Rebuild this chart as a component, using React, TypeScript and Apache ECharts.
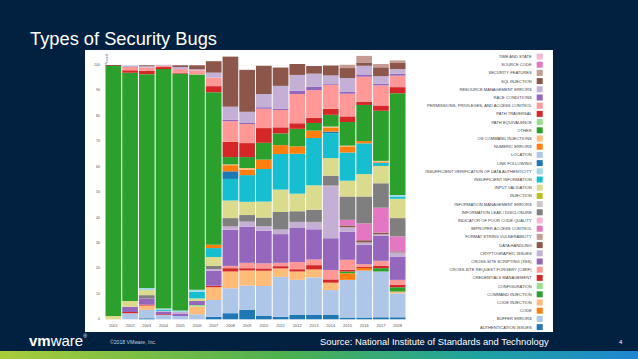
import React, { useEffect, useRef } from 'react';
import * as echarts from 'echarts';

const years = ['2001', '2002', '2003', '2004', '2005', '2006', '2007', '2008', '2009', '2010', '2011', '2012', '2013', '2014', '2015', '2016', '2017', '2018'];

const yTicks = [0, 10, 20, 30, 40, 50, 60, 70, 80, 90, 100];

// stack order: bottom -> top
const authenticationIssues = [0, 0, 0.4, 0, 0, 0, 1.0, 2.4, 3.7, 1.3, 1.0, 1.7, 1.7, 1.7, 0.7, 0.7, 0.8, 0.8];
const bufferErrors = [0, 2.4, 3.3, 1.7, 1.3, 2.0, 6.6, 9.8, 9.6, 11.8, 15.7, 13.8, 14.8, 9.8, 14.8, 18.5, 18.0, 9.4];
const code = [0, 0, 0, 0, 0, 0, 0, 0, 0, 0, 0, 0, 0, 0, 2.6, 1.0, 0, 0];
const codeInjection = [0, 0, 1.7, 0, 0, 3.0, 5.0, 6.6, 5.9, 6.0, 3.3, 3.3, 3.1, 2.9, 0, 0, 0, 0.7];
const commandInjection = [0, 0, 0, 0, 0, 0, 0, 0, 0, 0, 0, 0, 0, 0, 0.7, 0, 1.3, 1.7];
const configuration = [0, 0, 0, 0, 0, 0.6, 0, 0, 0, 0, 0, 0, 0, 0, 0, 0, 0, 0];
const credentialsManagement = [0, 0.5, 0.4, 0.3, 0, 0, 0.6, 1.3, 0.9, 0.9, 0.9, 0.9, 1.7, 1.3, 0.7, 0.5, 0.9, 0.9];
const csrf = [0, 0, 0, 0, 0, 0, 0, 0.9, 2.1, 2.0, 1.3, 2.8, 2.2, 3.7, 3.9, 1.0, 2.0, 2.0];
const xss = [0, 2.0, 2.4, 1.0, 1.0, 1.6, 5.9, 14.2, 14.2, 12.8, 11.3, 13.4, 11.9, 12.5, 11.1, 7.5, 9.8, 9.2];
const cryptographicIssues = [0, 0, 0, 0.3, 0.6, 0, 0.6, 1.3, 2.0, 1.8, 1.8, 2.4, 2.9, 20.4, 1.7, 1.0, 0.6, 1.6];
const dataHandling = [0, 0, 0, 0, 0, 0, 0, 0, 0, 0, 0, 0, 0, 0, 0.7, 0.9, 0.7, 0.4];
const formatString = [0, 0, 0, 0, 0, 0, 0, 0, 0, 0, 0, 0, 0, 0.3, 0, 0, 0, 0];
const improperAccessControl = [0, 0, 0, 0, 0, 0, 0, 0, 0, 0, 0, 0, 0, 0, 2.2, 6.6, 9.8, 5.9];
const poorCodeQuality = [0, 0, 0, 0, 0, 0, 0, 0, 0, 0, 0, 0, 0, 0, 0, 0, 0, 0];
const informationLeak = [0, 0, 1.3, 0, 0, 0, 1.3, 3.3, 2.6, 3.4, 6.9, 4.2, 4.8, 3.9, 9.2, 10.6, 9.6, 7.2];
const informationManagement = [0, 0, 0, 0, 0, 0, 0, 0, 0, 0, 0, 0, 0, 0, 0, 0, 0, 0];
const injection = [0, 0, 0, 0, 0, 0, 0, 0, 0, 0, 0, 0, 0, 0, 0, 0, 0, 0];
const inputValidation = [1.3, 2.3, 2.0, 0, 0, 1.0, 3.5, 6.9, 5.2, 6.3, 8.8, 6.9, 9.6, 6.9, 6.2, 8.8, 6.8, 7.6];
const insufficientInformation = [0, 0, 0, 0.5, 0, 2.6, 3.5, 8.5, 10.5, 12.8, 14.0, 15.7, 18.6, 9.8, 11.1, 12.1, 1.3, 0.9];
const insufficientVerification = [0, 0, 0.8, 0.4, 0.6, 0.8, 0, 0, 0, 0, 0, 0, 0, 0, 0, 0, 0, 0.6];
const linkFollowing = [0, 0, 0, 0, 0, 0, 0, 3.0, 0, 0, 0, 0, 0, 0.6, 0, 0, 0, 0];
const location = [0, 0, 0, 0, 0, 0, 0, 0, 0, 0, 0, 0, 0, 0, 0, 0, 0, 0];
const numericErrors = [0, 0, 0, 0, 0, 0, 1.3, 2.4, 2.2, 3.7, 3.5, 2.9, 2.9, 1.6, 2.4, 0.9, 0.3, 0];
const osCommandInjections = [0, 0, 0, 0, 0, 0, 0, 0.3, 0.6, 0, 0, 0, 0, 0.4, 0.3, 0, 0.4, 0];
const other = [98.3, 89.8, 84.1, 94.2, 93.1, 84.7, 60.0, 2.9, 4.3, 6.6, 4.6, 6.9, 3.0, 4.6, 9.3, 14.2, 19.7, 40.0];
const pathEquivalence = [0, 0, 0, 0, 0, 0, 0, 0, 0, 0, 0, 0, 0, 0, 0, 0, 0, 0];
const pathTraversal = [0, 0.9, 1.3, 0.8, 0.3, 0, 2.4, 6.0, 5.5, 5.8, 2.4, 2.2, 2.0, 2.4, 2.2, 1.3, 2.1, 2.4];
const permissions = [0, 1.3, 1.3, 0.6, 1.5, 1.6, 3.3, 8.1, 7.5, 7.6, 6.8, 11.5, 10.9, 9.4, 8.9, 9.8, 7.9, 4.5];
const raceConditions = [0, 0, 0, 0, 0, 0, 0, 0.5, 0.6, 0.6, 0.6, 1.3, 1.3, 0.3, 0.7, 0.9, 0.7, 0.8];
const resourceManagement = [0, 0.6, 0.5, 0.3, 0.8, 0.4, 2.0, 5.2, 4.2, 5.2, 8.9, 6.2, 5.2, 3.4, 5.5, 3.4, 2.9, 1.8];
const sqlInjection = [0.4, 0, 0.4, 0, 0.7, 1.6, 4.5, 19.7, 16.5, 11.1, 7.2, 4.3, 3.0, 3.9, 3.9, 1.3, 3.5, 2.4];
const securityFeatures = [0, 0, 0, 0, 0, 0, 0, 0, 0, 0, 0, 0, 0, 0, 1.3, 2.6, 1.3, 1.0];
const sourceCode = [0, 0, 0, 0, 0, 0, 0, 0, 0, 0, 0, 0, 0, 0, 0, 0, 0, 0];
const timeAndState = [0, 0, 0, 0, 0, 0, 0, 0, 0, 0, 0, 0, 0, 0, 0, 0, 0, 0];

const categories: [string, number[]][] = [
  ['AUTHENTICATION ISSUES', authenticationIssues],
  ['BUFFER ERRORS', bufferErrors],
  ['CODE', code],
  ['CODE INJECTION', codeInjection],
  ['COMMAND INJECTION', commandInjection],
  ['CONFIGURATION', configuration],
  ['CREDENTIALS MANAGEMENT', credentialsManagement],
  ['CROSS-SITE REQUEST FORGERY (CSRF)', csrf],
  ['CROSS-SITE SCRIPTING (XSS)', xss],
  ['CRYPTOGRAPHIC ISSUES', cryptographicIssues],
  ['DATA HANDLING', dataHandling],
  ['FORMAT STRING VULNERABILITY', formatString],
  ['IMPROPER ACCESS CONTROL', improperAccessControl],
  ['INDICATOR OF POOR CODE QUALITY', poorCodeQuality],
  ['INFORMATION LEAK / DISCLOSURE', informationLeak],
  ['INFORMATION MANAGEMENT ERRORS', informationManagement],
  ['INJECTION', injection],
  ['INPUT VALIDATION', inputValidation],
  ['INSUFFICIENT INFORMATION', insufficientInformation],
  ['INSUFFICIENT VERIFICATION OF DATA AUTHENTICITY', insufficientVerification],
  ['LINK FOLLOWING', linkFollowing],
  ['LOCATION', location],
  ['NUMERIC ERRORS', numericErrors],
  ['OS COMMAND INJECTIONS', osCommandInjections],
  ['OTHER', other],
  ['PATH EQUIVALENCE', pathEquivalence],
  ['PATH TRAVERSAL', pathTraversal],
  ['PERMISSIONS, PRIVILEGES, AND ACCESS CONTROL', permissions],
  ['RACE CONDITIONS', raceConditions],
  ['RESOURCE MANAGEMENT ERRORS', resourceManagement],
  ['SQL INJECTION', sqlInjection],
  ['SECURITY FEATURES', securityFeatures],
  ['SOURCE CODE', sourceCode],
  ['TIME AND STATE', timeAndState],
];

const palette = [
  '#1f77b4', '#aec7e8', '#ff7f0e', '#ffbb78', '#2ca02c', '#98df8a', '#d62728', '#ff9896',
  '#9467bd', '#c5b0d5', '#8c564b', '#c49c94', '#e377c2', '#f7b6d2', '#7f7f7f', '#c7c7c7',
  '#bcbd22', '#dbdb8d', '#17becf', '#9edae5',
];

const FONT = 'Liberation Sans, Arial, Helvetica, sans-serif';

export default function App() {
  const ref = useRef<HTMLDivElement>(null);
  useEffect(() => {
    const chart = echarts.init(ref.current!, undefined, { renderer: 'svg', width: 638, height: 359 });
    chart.setOption({
      animation: false,
      backgroundColor: '#02203f',
      textStyle: { fontFamily: FONT },
      graphic: [
        { type: 'rect', z: -10, shape: { x: 85, y: 50, width: 468, height: 282 }, style: { fill: '#ffffff' } },
        {
          type: 'text', x: 30, y: 38,
          style: { text: 'Types of Security Bugs', fill: '#ffffff', fontSize: 18.3, fontFamily: FONT, verticalAlign: 'middle' },
        },
        {
          type: 'text', x: 106.8, y: 65.5, rotation: Math.PI / 2,
          style: { text: 'Percent', fill: '#555555', fontSize: 3.5, fontFamily: FONT, verticalAlign: 'middle', align: 'left' },
        },
        {
          type: 'text', x: 29, y: 340.5,
          style: {
            text: '{vm|vm}{ware|ware}{r|®}',
            fill: '#ffffff', verticalAlign: 'middle', fontFamily: FONT,
            rich: {
              vm: { fontSize: 15, fontWeight: 'bold', fill: '#ffffff', fontFamily: FONT },
              ware: { fontSize: 15, fill: '#ffffff', fontFamily: FONT },
              r: { fontSize: 5, fill: '#ffffff', fontFamily: FONT, verticalAlign: 'top' },
            },
          },
        },
        {
          type: 'text', x: 110, y: 342,
          style: { text: '©2018 VMware, Inc.', fill: '#c9d1db', fontSize: 5.1, fontFamily: FONT, verticalAlign: 'middle' },
        },
        {
          type: 'text', x: 320, y: 341.5,
          style: { text: 'Source: National Institute of Standards and Technology', fill: '#ffffff', fontSize: 9.4, fontFamily: FONT, verticalAlign: 'middle' },
        },
        {
          type: 'text', x: 619, y: 342,
          style: { text: '4', fill: '#ffffff', fontSize: 6, fontFamily: FONT, verticalAlign: 'middle' },
        },
        {
          type: 'rect', shape: { x: 0, y: 351, width: 638, height: 8 },
          style: {
            fill: new echarts.graphic.LinearGradient(0, 0, 1, 0, [
              { offset: 0, color: '#a9cc3a' },
              { offset: 0.45, color: '#4cb050' },
              { offset: 0.75, color: '#1fa3a0' },
              { offset: 1, color: '#1f86cf' },
            ]),
          },
        },
      ],
      legend: {
        orient: 'vertical',
        right: 95.3,
        top: 53.5,
        padding: 0,
        align: 'right',
        icon: 'rect',
        itemWidth: 6,
        itemHeight: 6,
        itemGap: 2.2,
        selectedMode: false,
        textStyle: { fontSize: 4.1, color: '#444444', fontFamily: FONT },
        data: categories.map((c) => c[0]).reverse(),
      },
      grid: { left: 105, top: 52.3, width: 301, height: 267, containLabel: false },
      xAxis: {
        type: 'category',
        data: years,
        axisLine: { show: false },
        axisTick: { show: false },
        axisLabel: { fontSize: 4, color: '#555555', margin: 4, interval: 0 },
      },
      yAxis: {
        type: 'value',
        min: 0,
        max: 105,
        interval: 10,
        axisLine: { show: false },
        axisTick: { show: false },
        axisLabel: {
          fontSize: 3.6, color: '#555555', margin: 5, showMaxLabel: false,
          formatter: (v: number) => (yTicks.includes(v) ? String(v) : ''),
        },
        splitLine: { show: true, showMaxLine: false, lineStyle: { color: '#eeeeee', width: 0.5 } },
      },
      series: categories.map(([name, values], i) => ({
        name,
        type: 'bar',
        stack: 'total',
        barCategoryGap: '6%',
        data: values,
        itemStyle: { color: palette[i % palette.length] },
        emphasis: { disabled: true },
      })),
    });
    return () => chart.dispose();
  }, []);
  return <div ref={ref} style={{ position: 'fixed', left: 0, top: 0, width: 638, height: 359 }} />;
}
